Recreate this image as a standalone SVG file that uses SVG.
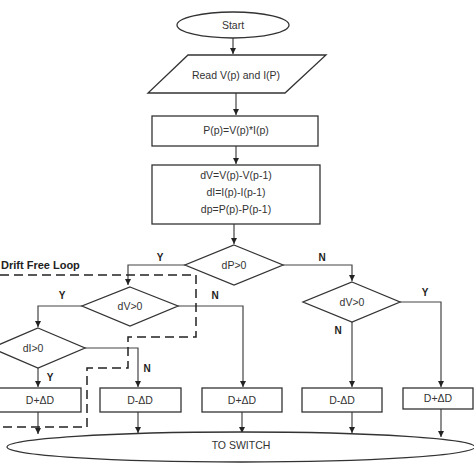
<svg xmlns="http://www.w3.org/2000/svg" width="474" height="474" viewBox="0 0 474 474">
<defs>
<style>
.s{fill:#fff;stroke:#333;stroke-width:1.3}
.t{font-family:"Liberation Sans",Arial,sans-serif;font-size:10.5px;fill:#333;text-anchor:middle;dominant-baseline:central}
.l{font-family:"Liberation Sans",Arial,sans-serif;font-size:10px;font-weight:bold;fill:#222;text-anchor:middle;dominant-baseline:central}
.c{fill:none;stroke:#444;stroke-width:1.2}
.d{fill:none;stroke:#222;stroke-width:1.5;stroke-dasharray:9,5}
</style>
<marker id="a" viewBox="0 0 10 10" refX="10" refY="5" markerWidth="6" markerHeight="6" orient="auto" markerUnits="userSpaceOnUse">
<path d="M0,0L10,5L0,10z" fill="#222"/>
</marker>
</defs>
<rect width="474" height="474" fill="#fff"/>
<g id="connectors">
<path class="c" d="M233,38V54" marker-end="url(#a)"/>
<path class="c" d="M236,93V115" marker-end="url(#a)"/>
<path class="c" d="M236,146V164" marker-end="url(#a)"/>
<path class="c" d="M234,224V244" marker-end="url(#a)"/>
<path class="c" d="M185,265H128V285" marker-end="url(#a)"/>
<path class="c" d="M283,265H352V281" marker-end="url(#a)"/>
<path class="c" d="M82,306H38V327" marker-end="url(#a)"/>
<path class="c" d="M178,306H243V387" marker-end="url(#a)"/>
<path class="c" d="M85,348H138V387" marker-end="url(#a)"/>
<path class="c" d="M38,368V387" marker-end="url(#a)"/>
<path class="c" d="M352,322V387" marker-end="url(#a)"/>
<path class="c" d="M400,302H441V387" marker-end="url(#a)"/>
<path class="c" d="M38,412V434" marker-end="url(#a)"/>
<path class="c" d="M138,412V433" marker-end="url(#a)"/>
<path class="c" d="M242,412V433" marker-end="url(#a)"/>
<path class="c" d="M352,412V433" marker-end="url(#a)"/>
<path class="c" d="M441,409V437" marker-end="url(#a)"/>
</g>
<g id="labels">
<text class="l" x="160" y="257">Y</text>
<text class="l" x="322" y="257">N</text>
<text class="l" x="62" y="295">Y</text>
<text class="l" x="215" y="295">N</text>
<text class="l" x="425" y="292">Y</text>
<text class="l" x="338" y="330">N</text>
<text class="l" x="147" y="368">N</text>
<text class="l" x="50" y="377">Y</text>
</g>
<g id="drift-loop">
<path class="d" d="M0,275H196V337H128V368H87V427H0"/>
<text x="1" y="265" font-family="Liberation Sans,Arial,sans-serif" font-size="11px" font-weight="bold" fill="#222" dominant-baseline="central">Drift Free Loop</text>
</g>
<g id="start"><ellipse class="s" cx="233" cy="25" rx="56" ry="13"/><text class="t" x="233" y="25">Start</text></g>
<g id="read"><polygon class="s" points="188,55 326,55 285,93 148,93"/><text class="t" x="236" y="75">Read V(p) and I(P)</text></g>
<g id="power"><rect class="s" x="152" y="116" width="166" height="30"/><text class="t" x="236" y="130">P(p)=V(p)*I(p)</text></g>
<g id="diffs"><rect class="s" x="152" y="165" width="168" height="59"/>
<text class="t" x="236" y="175">dV=V(p)-V(p-1)</text>
<text class="t" x="236" y="192">dI=I(p)-I(p-1)</text>
<text class="t" x="236" y="209">dp=P(p)-P(p-1)</text></g>
<g id="dp"><polygon class="s" points="234,245 283,265 234,285 185,265"/><text class="t" x="234" y="265">dP&gt;0</text></g>
<g id="dv1"><polygon class="s" points="130,287 178,306 130,326 82,306"/><text class="t" x="130" y="306">dV&gt;0</text></g>
<g id="dv2"><polygon class="s" points="352,282 400,302 352,322 303,302"/><text class="t" x="352" y="302">dV&gt;0</text></g>
<g id="di"><polygon class="s" points="38,328 85,348 38,368 -9,348"/><text class="t" x="33" y="348">dI&gt;0</text></g>
<g id="b1"><rect class="s" x="-3" y="388" width="84" height="24"/><text class="t" x="40" y="400">D+ΔD</text></g>
<g id="b2"><rect class="s" x="100" y="388" width="81" height="24"/><text class="t" x="140" y="400">D-ΔD</text></g>
<g id="b3"><rect class="s" x="202" y="388" width="80" height="24"/><text class="t" x="242" y="400">D+ΔD</text></g>
<g id="b4"><rect class="s" x="302" y="388" width="80" height="24"/><text class="t" x="342" y="400">D-ΔD</text></g>
<g id="b5"><rect class="s" x="403" y="388" width="70" height="21"/><text class="t" x="438" y="398">D+ΔD</text></g>
<g id="switch"><ellipse class="s" cx="241" cy="447" rx="234" ry="15"/><text class="t" x="241" y="445">TO SWITCH</text></g>
</svg>
